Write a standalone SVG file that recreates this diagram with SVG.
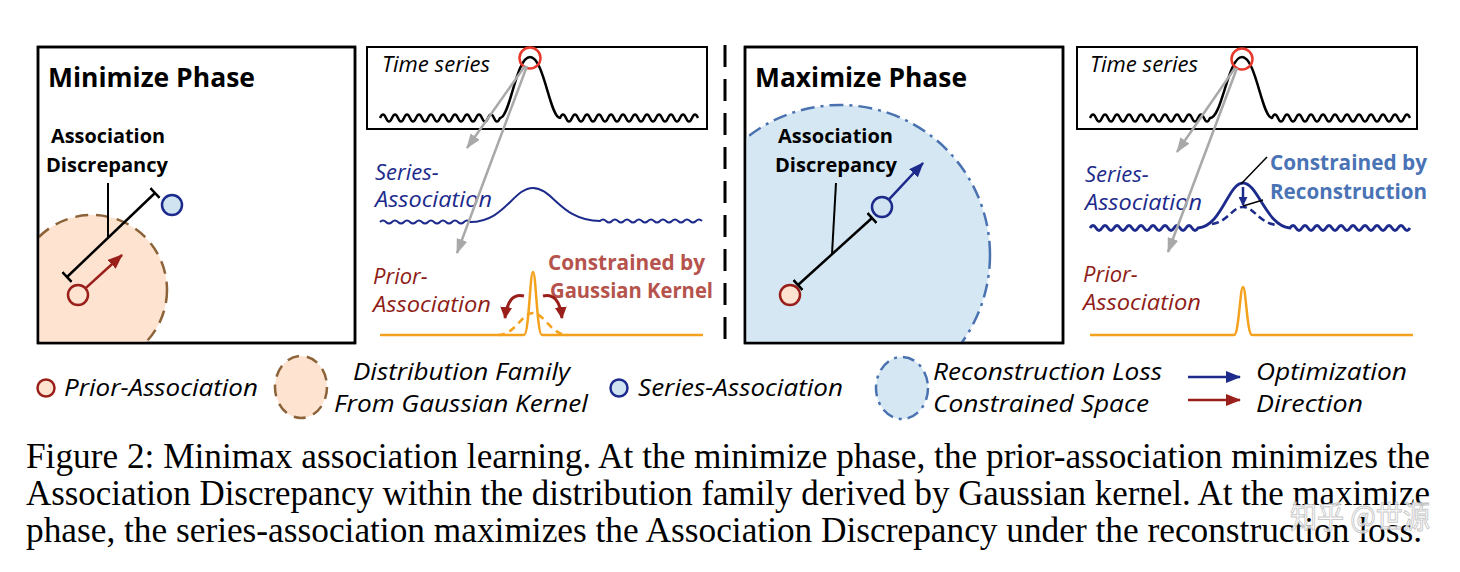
<svg xmlns="http://www.w3.org/2000/svg" width="1460" height="572" viewBox="0 0 1460 572">
<defs>
<style>
.sans{font-family:"Open Sans","Liberation Sans",sans-serif}
.it{font-family:"Open Sans","Liberation Sans",sans-serif;font-style:italic}
.bold{font-family:"Open Sans","Liberation Sans",sans-serif;font-weight:bold}
.box{fill:#fff;stroke:#000;stroke-width:2.5}
.tsbox{fill:#fff;stroke:#000;stroke-width:2}
.ts{fill:none;stroke:#000;stroke-width:2.5;stroke-linejoin:round}
.ser{fill:none;stroke:#1c2a8c}
.pri{fill:none;stroke:#f4a21e;stroke-width:2.5}
.gray{stroke:#a9a9a9;stroke-width:2.5;fill:none}
.disc{stroke:#000;stroke-width:2.5;fill:none}
.lead{stroke:#000;stroke-width:2;fill:none}
.pc{fill:#fde3d0;stroke:#9a1f1a;stroke-width:2.5}
.sc{fill:#cfe3f1;stroke:#1c2a8c;stroke-width:2.5}
.cap{font-family:"Liberation Serif","Times New Roman",serif;font-size:35px;fill:#000}
.blk{fill:#000}
</style>
<marker id="ahGray" markerWidth="15" markerHeight="11" refX="14" refY="5.5" orient="auto" markerUnits="userSpaceOnUse"><path d="M0,0 L15,5.5 L0,11 z" fill="#a9a9a9"/></marker>
<marker id="ahRed" markerWidth="15" markerHeight="12" refX="14" refY="6" orient="auto" markerUnits="userSpaceOnUse"><path d="M0,0 L15,6 L0,12 z" fill="#9a1f1a"/></marker>
<marker id="ahBlue" markerWidth="15" markerHeight="12" refX="14" refY="6" orient="auto" markerUnits="userSpaceOnUse"><path d="M0,0 L15,6 L0,12 z" fill="#1c2a8c"/></marker>
<marker id="ahRedS" markerWidth="12" markerHeight="12" refX="11" refY="6" orient="auto" markerUnits="userSpaceOnUse"><path d="M0,0 L12,6 L0,12 z" fill="#9a1f1a"/></marker>
<marker id="ahBlueS" markerWidth="9" markerHeight="9" refX="8" refY="4.5" orient="auto" markerUnits="userSpaceOnUse"><path d="M0,0 L9,4.5 L0,9 z" fill="#1c2a8c"/></marker>
<marker id="tbar" markerWidth="4" markerHeight="14" refX="2" refY="7" orient="auto" markerUnits="userSpaceOnUse"><path d="M2,0 V14" stroke="#000" stroke-width="2.5"/></marker>
<clipPath id="clipL"><rect x="38" y="47" width="317" height="296"/></clipPath>
<clipPath id="clipR"><rect x="745" y="47" width="318" height="296"/></clipPath>
</defs>

<!-- Minimize phase panel -->
<g id="minimize-phase">
<rect class="box" x="38" y="47" width="317" height="296"/>
<circle cx="92" cy="290" r="75" clip-path="url(#clipL)" fill="#fde3d0" stroke="#8c6239" stroke-width="2.5" stroke-dasharray="13 8"/>
<rect x="38" y="47" width="317" height="296" fill="none" stroke="#000" stroke-width="2.5"/>
<text class="bold" x="48" y="87" font-size="26" textLength="207" lengthAdjust="spacingAndGlyphs">Minimize Phase</text>
<text class="bold" x="51" y="143" font-size="20" textLength="114" lengthAdjust="spacingAndGlyphs">Association</text>
<text class="bold" x="46" y="172" font-size="20" textLength="122" lengthAdjust="spacingAndGlyphs">Discrepancy</text>
</g>
<g id="min-prior-point"><circle class="pc" cx="78" cy="295" r="10"/></g>
<g id="min-series-point"><circle class="sc" cx="172" cy="205" r="10"/></g>

<!-- Left time-series panel -->
<g id="min-time-series">
<rect class="tsbox" x="367" y="47" width="340" height="82"/>
<text class="it" x="382" y="72" font-size="21" textLength="108" lengthAdjust="spacingAndGlyphs">Time series</text>
<path class="ts" d="M380,118 q3,-7 6,0 t6,0 t6,0 t6,0 t6,0 t6,0 t6,0 t6,0 t6,0 t6,0 t6,0 t6,0 t6,0 t6,0 t6,0 t6,0 t6,0 t6,0 t6,0 t6,0 C510,118 516,57 530,57 C544,57 550,118 560,118 q3,-7 6,0 t6,0 t6,0 t6,0 t6,0 t6,0 t6,0 t6,0 t6,0 t6,0 t6,0 t6,0 t6,0 t6,0 t6,0 t6,0 t6,0 t6,0 t6,0 t6,0 t6,0 t6,0 t6,0"/>
<circle cx="530" cy="58" r="10.5" fill="none" stroke="#e8392c" stroke-width="2.5"/>
</g>
<g id="min-series-association">
<text class="it" x="375" y="180" font-size="22" fill="#1c2a8c">Series-</text>
<text class="it" x="375" y="207" font-size="22" fill="#1c2a8c" textLength="117" lengthAdjust="spacingAndGlyphs">Association</text>
<path class="ser" stroke-width="2" d="M380,222 q3,-3 6,0 t6,0 t6,0 t6,0 t6,0 t6,0 t6,0 t6,0 t6,0 t6,0 t6,0 t6,0 t6,0 t6,0 t6,0 C505,222 513,188 533,188 C553,188 561,221 600,221 q3,-3 6,0 t6,0 t6,0 t6,0 t6,0 t6,0 t6,0 t6,0 t6,0 t6,0 t6,0 t6,0 t6,0 t6,0 t6,0 t6,0 t6,0"/>
</g>
<g id="min-prior-association">
<text class="it" x="373" y="284" font-size="22" fill="#8f1d17">Prior-</text>
<text class="it" x="373" y="312" font-size="22" fill="#8f1d17" textLength="118" lengthAdjust="spacingAndGlyphs">Association</text>
<path class="pri" d="M380,335 H524 C529,335 530,272 533,272 C536,272 537,335 542,335 H703"/>
<path class="pri" stroke-dasharray="7 5" d="M498,335 C515,335 522,313 533,313 C544,313 551,335 568,335"/>
<text class="bold" x="548" y="270" font-size="21" fill="#b5534c" textLength="157" lengthAdjust="spacingAndGlyphs">Constrained by</text>
<text class="bold" x="550" y="298" font-size="21" fill="#b5534c" textLength="163" lengthAdjust="spacingAndGlyphs">Gaussian Kernel</text>
</g>

<!-- Divider -->
<g id="divider"><line x1="725" y1="45" x2="725" y2="342" stroke="#000" stroke-width="3" stroke-dasharray="22 12"/></g>

<!-- Maximize phase panel -->
<g id="maximize-phase">
<rect class="box" x="745" y="47" width="318" height="296"/>
<circle cx="840" cy="255" r="150" clip-path="url(#clipR)" fill="#d4e7f3" stroke="#4a72b0" stroke-width="2.5" stroke-dasharray="14 6 3 6"/>
<rect x="745" y="47" width="318" height="296" fill="none" stroke="#000" stroke-width="2.5"/>
<text class="bold" x="755" y="87" font-size="26" textLength="212" lengthAdjust="spacingAndGlyphs">Maximize Phase</text>
<text class="bold" x="778" y="143" font-size="20" textLength="115" lengthAdjust="spacingAndGlyphs">Association</text>
<text class="bold" x="775" y="172" font-size="20" textLength="122" lengthAdjust="spacingAndGlyphs">Discrepancy</text>
</g>
<g id="max-prior-point"><circle class="pc" cx="790" cy="295" r="10"/></g>
<g id="max-series-point"><circle class="sc" cx="882" cy="207" r="10" fill="#ffffff"/></g>

<!-- Right time-series panel -->
<g id="max-time-series">
<rect class="tsbox" x="1077" y="47" width="340" height="82"/>
<text class="it" x="1090" y="72" font-size="21" textLength="108" lengthAdjust="spacingAndGlyphs">Time series</text>
<path class="ts" d="M1090,118 q3,-7 6,0 t6,0 t6,0 t6,0 t6,0 t6,0 t6,0 t6,0 t6,0 t6,0 t6,0 t6,0 t6,0 t6,0 t6,0 t6,0 t6,0 t6,0 t6,0 t6,0 C1222,118 1228,57 1242,57 C1256,57 1262,118 1272,118 q3,-7 6,0 t6,0 t6,0 t6,0 t6,0 t6,0 t6,0 t6,0 t6,0 t6,0 t6,0 t6,0 t6,0 t6,0 t6,0 t6,0 t6,0 t6,0 t6,0 t6,0 t6,0 t6,0 t6,0"/>
<circle cx="1242" cy="59" r="10.5" fill="none" stroke="#e8392c" stroke-width="2.5"/>
</g>
<g id="max-series-association">
<text class="it" x="1085" y="182" font-size="22" fill="#1c2a8c">Series-</text>
<text class="it" x="1085" y="210" font-size="22" fill="#1c2a8c" textLength="117" lengthAdjust="spacingAndGlyphs">Association</text>
<path class="ser" stroke-width="2.8" d="M1090,228 q3,-5 6,0 t6,0 t6,0 t6,0 t6,0 t6,0 t6,0 t6,0 t6,0 t6,0 t6,0 t6,0 t6,0 t6,0 t6,0 t6,0 t6,0 t6,0 C1222,226 1228,183 1243,183 C1258,183 1266,226 1290,228 q3,-5 6,0 t6,0 t6,0 t6,0 t6,0 t6,0 t6,0 t6,0 t6,0 t6,0 t6,0 t6,0 t6,0 t6,0 t6,0 t6,0 t6,0 t6,0 t6,0 t6,0"/>
<path class="ser" stroke-width="2.5" stroke-dasharray="7 4" d="M1212,224 C1228,222 1232,207 1243,207 C1254,207 1258,222 1276,225"/>
<text class="bold" x="1270" y="170" font-size="21" fill="#4a73b5" textLength="157" lengthAdjust="spacingAndGlyphs">Constrained by</text>
<text class="bold" x="1270" y="199" font-size="21" fill="#4a73b5" textLength="157" lengthAdjust="spacingAndGlyphs">Reconstruction</text>
</g>
<g id="max-prior-association">
<text class="it" x="1083" y="282" font-size="22" fill="#8f1d17">Prior-</text>
<text class="it" x="1083" y="310" font-size="22" fill="#8f1d17" textLength="118" lengthAdjust="spacingAndGlyphs">Association</text>
<path class="pri" d="M1090,335 H1234 C1239,335 1240,287 1243,287 C1246,287 1247,335 1252,335 H1413"/>
</g>

<!-- Connectors -->
<g id="connectors">
<line class="disc" x1="67" y1="277" x2="155" y2="193" marker-start="url(#tbar)" marker-end="url(#tbar)"/>
<line class="lead" x1="108" y1="183" x2="108" y2="238"/>
<line stroke="#9a1f1a" stroke-width="2.5" x1="85.4" y1="288.3" x2="122" y2="255" marker-end="url(#ahRed)"/>
<line class="gray" x1="525" y1="66" x2="467" y2="148" marker-end="url(#ahGray)"/>
<line class="gray" x1="527" y1="66" x2="457" y2="253" marker-end="url(#ahGray)"/>
<path fill="none" stroke="#9a1f1a" stroke-width="3" d="M524,296 Q508,292 505,318" marker-end="url(#ahRedS)"/>
<path fill="none" stroke="#9a1f1a" stroke-width="3" d="M543,296 Q559,292 562,318" marker-end="url(#ahRedS)"/>
<line class="disc" x1="798" y1="285" x2="872" y2="218" marker-start="url(#tbar)" marker-end="url(#tbar)"/>
<line class="lead" x1="836" y1="183" x2="832" y2="254"/>
<line stroke="#1c2a8c" stroke-width="2.5" x1="888.8" y1="199.7" x2="923" y2="163" marker-end="url(#ahBlue)"/>
<line class="gray" x1="1235" y1="68" x2="1177" y2="152" marker-end="url(#ahGray)"/>
<line class="gray" x1="1237" y1="68" x2="1168" y2="252" marker-end="url(#ahGray)"/>
<line stroke="#1c2a8c" stroke-width="2.5" x1="1243" y1="187" x2="1243" y2="205" marker-end="url(#ahBlueS)"/>
<line stroke="#000" stroke-width="1.5" x1="1267" y1="157" x2="1241" y2="184"/>
<line stroke="#000" stroke-width="1.5" x1="1243" y1="206" x2="1263" y2="200"/>
</g>

<!-- Legend -->
<g id="legend-prior">
<circle class="pc" cx="46" cy="388" r="8.5"/>
<text class="it blk" x="64" y="396" font-size="24" textLength="194" lengthAdjust="spacingAndGlyphs">Prior-Association</text>
</g>
<g id="legend-distribution">
<ellipse cx="301" cy="387" rx="26" ry="31" fill="#fde3d0" stroke="#8c6239" stroke-width="2.5" stroke-dasharray="12 8"/>
<text class="it blk" x="353" y="380" font-size="24" textLength="217" lengthAdjust="spacingAndGlyphs">Distribution Family</text>
<text class="it blk" x="334" y="412" font-size="24" textLength="254" lengthAdjust="spacingAndGlyphs">From Gaussian Kernel</text>
</g>
<g id="legend-series">
<circle class="sc" cx="619" cy="388" r="8.5"/>
<text class="it blk" x="638" y="396" font-size="24" textLength="205" lengthAdjust="spacingAndGlyphs">Series-Association</text>
</g>
<g id="legend-reconstruction">
<ellipse cx="902" cy="388" rx="26" ry="31" fill="#d4e7f3" stroke="#4a72b0" stroke-width="2.5" stroke-dasharray="12 6 3 6"/>
<text class="it blk" x="933" y="380" font-size="24" textLength="229" lengthAdjust="spacingAndGlyphs">Reconstruction Loss</text>
<text class="it blk" x="933" y="412" font-size="24" textLength="216" lengthAdjust="spacingAndGlyphs">Constrained Space</text>
</g>
<g id="legend-optimization">
<line stroke="#1c2a8c" stroke-width="2.5" x1="1188" y1="377" x2="1240" y2="377" marker-end="url(#ahBlue)"/>
<line stroke="#9a1f1a" stroke-width="2.5" x1="1188" y1="400" x2="1240" y2="400" marker-end="url(#ahRed)"/>
<text class="it blk" x="1256" y="380" font-size="24" textLength="151" lengthAdjust="spacingAndGlyphs">Optimization</text>
<text class="it blk" x="1256" y="412" font-size="24" textLength="107" lengthAdjust="spacingAndGlyphs">Direction</text>
</g>

<!-- Caption -->
<g id="caption">
<text class="cap" x="26" y="468" textLength="1404" lengthAdjust="spacingAndGlyphs">Figure 2: Minimax association learning. At the minimize phase, the prior-association minimizes the</text>
<text class="cap" x="26" y="505" textLength="1404" lengthAdjust="spacingAndGlyphs">Association Discrepancy within the distribution family derived by Gaussian kernel. At the maximize</text>
<text class="cap" x="26" y="542" textLength="1396" lengthAdjust="spacingAndGlyphs">phase, the series-association maximizes the Association Discrepancy under the reconstruction loss.</text>
</g>
<g id="watermark">
<text x="1290" y="528" font-family="'Noto Sans CJK SC',sans-serif" font-size="31" textLength="140" lengthAdjust="spacingAndGlyphs" fill="#ffffff" fill-opacity="0.75" stroke="#c8c8c8" stroke-width="1">知乎 @世源</text>
</g>
</svg>
